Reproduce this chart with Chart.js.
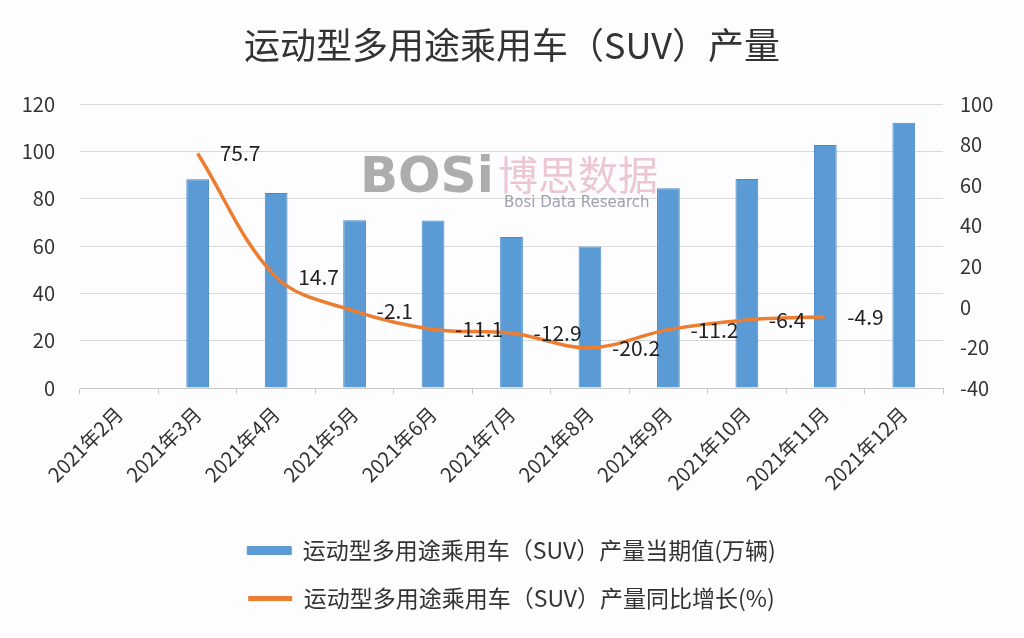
<!DOCTYPE html>
<html>
<head>
<meta charset="utf-8">
<script src="https://cdn.jsdelivr.net/npm/chart.js@4"></script>
<style>
  html, body { margin: 0; padding: 0; background: #fdfdff; }
  #wrap { width: 1024px; height: 638px; position: relative; }
</style>
</head>
<body>
<div id="wrap"><canvas id="chart1" width="1024" height="638"></canvas></div>
<script>
const months = ["2021年2月", "2021年3月", "2021年4月", "2021年5月", "2021年6月", "2021年7月",
  "2021年8月", "2021年9月", "2021年10月", "2021年11月", "2021年12月"];
const output = [null, 88.3, 82.5, 70.9, 70.8, 63.9, 59.8, 84.5, 88.4, 102.7, 112.2];
const growth = [null, 75.7, 14.7, -2.1, -11.1, -12.9, -20.2, -11.2, -6.4, -4.9, null];
const leftTicks = [0, 20, 40, 60, 80, 100, 120];
const rightTicks = [-40, -20, 0, 20, 40, 60, 80, 100];

const FONT = "'Noto Sans CJK SC', 'Noto Sans', sans-serif";

const lineLabels = {
  id: "lineLabels",
  afterDatasetsDraw(chart) {
    const ctx = chart.ctx;
    const meta = chart.getDatasetMeta(1);
    ctx.save();
    ctx.font = "21px " + FONT;
    ctx.fillStyle = "#222";
    ctx.textAlign = "left";
    ctx.textBaseline = "middle";
    meta.data.forEach((pt, i) => {
      if (growth[i] === null) return;
      ctx.fillText(growth[i].toFixed(1), pt.x + 22, pt.y + 0);
    });
    ctx.restore();
  }
};

const watermark = {
  id: "watermark",
  beforeDatasetsDraw(chart) {
    const ctx = chart.ctx;
    ctx.save();
    ctx.textBaseline = "alphabetic";
    ctx.fillStyle = "rgba(120,120,120,0.6)";
    ctx.font = "bold 50px 'DejaVu Sans', sans-serif";
    ctx.fillText("BOSi", 360, 192);
    ctx.fillStyle = "rgba(215,130,150,0.45)";
    ctx.font = "40px " + FONT;
    ctx.fillText("博思数据", 498, 190);
    ctx.fillStyle = "rgba(110,110,130,0.65)";
    ctx.font = "15px 'DejaVu Sans', sans-serif";
    ctx.fillText("Bosi Data Research", 504, 207);
    ctx.restore();
  }
};

new Chart(document.getElementById("chart1").getContext("2d"), {
  data: {
    labels: months,
    datasets: [
      {
        type: "bar",
        label: "运动型多用途乘用车（SUV）产量当期值(万辆)",
        data: output,
        backgroundColor: "#5b9bd5",
        borderColor: "#4a8ac6",
        borderWidth: 1,
        barPercentage: 0.29,
        categoryPercentage: 1,
        yAxisID: "y",
        order: 2,
      },
      {
        type: "line",
        label: "运动型多用途乘用车（SUV）产量同比增长(%)",
        data: growth,
        borderColor: "#ed7d31",
        borderWidth: 3.5,
        pointRadius: 0,
        tension: 0.35,
        yAxisID: "y1",
        order: 1,
      },
    ],
  },
  options: {
    responsive: false,
    animation: false,
    layout: { padding: { left: 0, right: 0, top: 0, bottom: 18 } },
    plugins: {
      title: {
        display: true,
        text: "运动型多用途乘用车（SUV）产量",
        color: "#333",
        font: { family: FONT, size: 36, weight: "normal" },
        padding: { top: 24, bottom: 37 },
      },
      legend: {
        position: "bottom",
        align: "center",
        fullSize: false,
        labels: {
          color: "#333",
          font: { family: FONT, size: 23 },
          usePointStyle: true,
          boxWidth: 44,
          boxHeight: 8,
          pointStyleWidth: 44,
          padding: 25,
          generateLabels(chart) {
            return chart.data.datasets.map((ds, i) => ({
              text: ds.label,
              fillStyle: ds.type === "bar" ? "#5b9bd5" : "#ed7d31",
              strokeStyle: ds.type === "bar" ? "#5b9bd5" : "#ed7d31",
              lineWidth: ds.type === "bar" ? 1 : 5,
              pointStyle: ds.type === "bar" ? "rect" : "line",
              datasetIndex: i,
              hidden: false,
              fontColor: "#333",
            }));
          },
        },
      },
      tooltip: { enabled: false },
    },
    scales: {
      x: {
        offset: true,
        grid: { display: true, drawOnChartArea: false, drawTicks: true, tickLength: 6, offset: true, color: "#c8c8c8" },
        border: { color: "#c8c8c8" },
        ticks: { color: "#333", font: { family: FONT, size: 20 }, minRotation: 45, maxRotation: 45, padding: 8 },
        afterFit(scale) { scale.height = 126; },
      },
      y: {
        position: "left",
        min: 0,
        max: 120,
        afterBuildTicks(scale) { scale.ticks = leftTicks.map(v => ({ value: v })); },
        grid: { color: "#d9d9d9", drawTicks: false },
        border: { display: false },
        ticks: { color: "#333", font: { family: FONT, size: 20 }, padding: 25 },
        afterFit(scale) { scale.width = 80; },
      },
      y1: {
        position: "right",
        min: -40,
        max: 100,
        afterBuildTicks(scale) { scale.ticks = rightTicks.map(v => ({ value: v })); },
        grid: { drawOnChartArea: false, drawTicks: false },
        border: { display: false },
        ticks: { color: "#333", font: { family: FONT, size: 20 }, padding: 17 },
        afterFit(scale) { scale.width = 81; },
      },
    },
  },
  plugins: [watermark, lineLabels],
});
</script>
</body>
</html>
